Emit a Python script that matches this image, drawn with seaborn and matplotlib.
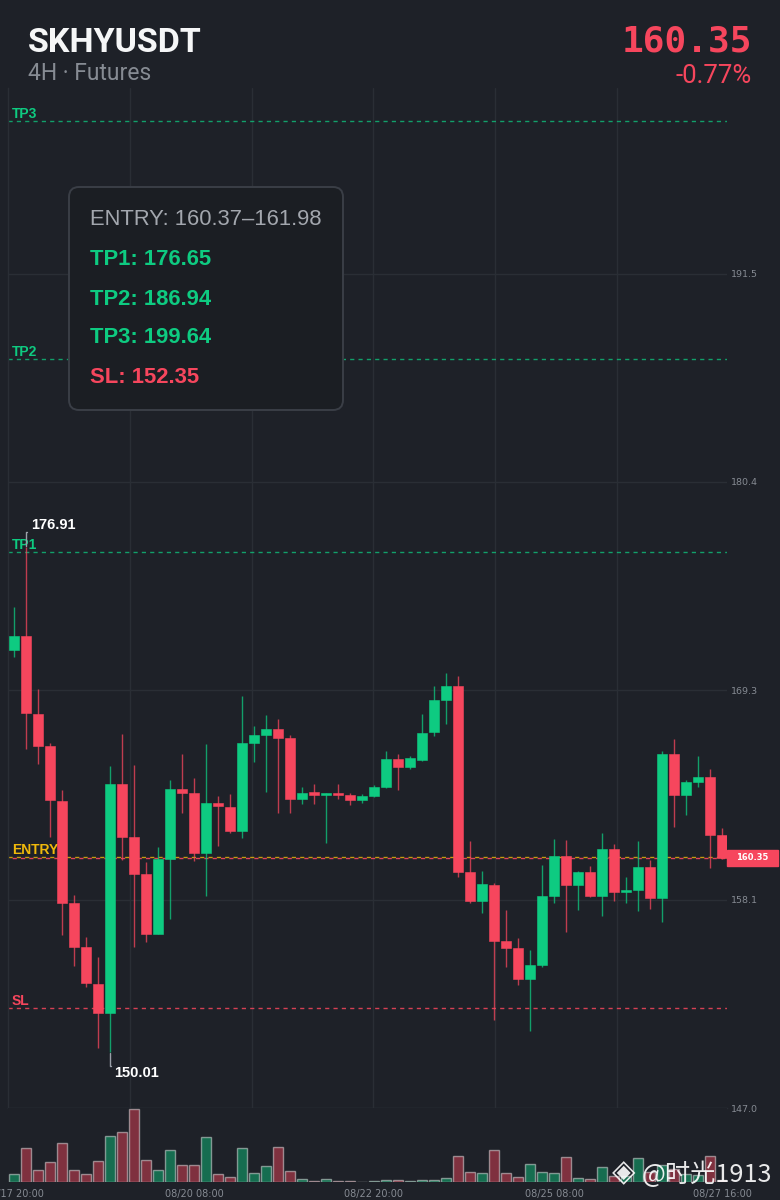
import matplotlib

matplotlib.use("Agg")
import matplotlib.pyplot as plt
import matplotlib.transforms as mtransforms
import numpy as np
import pandas as pd
import seaborn as sns
from matplotlib.patches import FancyBboxPatch, Rectangle

# ---- data (4H candles 08/17 20:00 .. 08/27 16:00) ----
opens = [171.41, 172.16, 168.00, 166.30, 163.38, 157.94, 155.57, 153.61, 152.08, 164.31,
         161.46, 159.47, 156.27, 160.29, 164.04, 163.78, 160.63, 163.27, 163.07, 161.78,
         166.49, 166.88, 167.22, 166.74, 163.47, 163.87, 163.69, 163.78, 163.69, 163.42,
         163.63, 164.13, 165.64, 165.17, 165.55, 167.06, 168.79, 169.49, 159.57, 158.05,
         158.92, 155.90, 155.53, 153.86, 154.63, 158.30, 160.47, 158.89, 159.57, 158.30,
         160.84, 158.55, 158.65, 159.86, 158.22, 165.91, 163.72, 164.40, 164.67, 161.55]
highs = [173.71, 176.91, 169.35, 166.47, 163.95, 158.34, 156.10, 155.07, 165.25, 166.97,
         165.32, 160.13, 160.93, 164.52, 165.91, 164.63, 166.44, 163.63, 163.74, 168.96,
         167.36, 167.95, 167.78, 166.92, 164.13, 164.27, 163.80, 164.31, 163.83, 163.74,
         164.22, 166.03, 165.87, 165.76, 168.00, 169.49, 170.21, 170.03, 161.23, 159.65,
         158.98, 157.55, 156.05, 155.42, 159.95, 161.33, 161.29, 159.65, 159.90, 161.66,
         161.06, 159.33, 161.23, 160.22, 166.05, 166.67, 164.52, 165.78, 165.07, 161.96]
lows = [171.04, 166.17, 165.37, 161.46, 156.21, 154.59, 153.43, 150.18, 150.01, 160.22,
        155.60, 155.87, 156.27, 157.11, 162.76, 160.18, 158.30, 160.99, 161.65, 161.43,
        165.46, 163.87, 162.75, 162.75, 163.20, 163.20, 161.14, 163.46, 163.15, 163.28,
        163.57, 164.09, 163.99, 165.11, 165.50, 166.83, 167.51, 159.30, 157.92, 157.38,
        151.69, 154.50, 153.56, 151.12, 154.50, 157.92, 156.40, 157.59, 158.25, 157.26,
        158.05, 157.92, 157.52, 157.64, 156.90, 161.99, 162.61, 164.13, 159.78, 160.26]
closes = [172.16, 168.06, 166.30, 163.42, 157.94, 155.60, 153.65, 152.08, 164.31, 161.46,
          159.51, 156.27, 160.29, 164.04, 163.81, 160.63, 163.27, 163.10, 161.78, 166.49,
          166.88, 167.22, 166.74, 163.47, 163.83, 163.69, 163.78, 163.69, 163.42, 163.63,
          164.13, 165.64, 165.17, 165.70, 167.03, 168.79, 169.49, 159.60, 158.05, 158.94,
          155.90, 155.53, 153.86, 154.61, 158.30, 160.47, 158.89, 159.57, 158.30, 160.84,
          158.53, 158.65, 159.86, 158.22, 165.91, 163.72, 164.38, 164.67, 161.57, 160.35]
volumes = [7.7, 34.3, 11.7, 20.3, 39.7, 12.3, 7.7, 20.7, 46.7, 50.3,
           73.7, 22.3, 12.3, 32.3, 16.7, 16.7, 45.7, 7.7, 5.0, 34.0,
           8.7, 16.0, 35.0, 11.0, 3.0, 1.3, 2.7, 1.3, 1.0, 0.3,
           0.7, 1.7, 1.7, 1.0, 2.3, 2.3, 3.7, 26.3, 9.7, 8.7,
           32.3, 9.3, 4.7, 17.7, 10.0, 9.0, 25.0, 4.0, 2.7, 14.7,
           5.7, 6.0, 23.7, 10.0, 16.7, 12.7, 8.3, 7.0, 26.0, 1.7]

time_tick_idx = [0, 15, 30, 45, 59]
time_tick_labels = ["08/17 20:00", "08/20 08:00", "08/22 20:00", "08/25 08:00", "08/27 16:00"]
price_ticks = [147.0, 158.1, 169.3, 180.4, 191.5]
grid_x = [9.65, 19.8, 29.95, 40.1, 50.25]

symbol = "SKHYUSDT"
subtitle = "4H · Futures"
last_price = 160.35
change_pct = -0.77
entry_range = (160.37, 161.98)
tp_names = ["TP1", "TP2", "TP3"]
tp_levels = [176.65, 186.94, 199.64]
sl_level = 152.35
swing_high = (1, 176.91)
swing_low = (8, 150.01)

# ---- style ----
BG = "#1e2128"
GRID = "#2a2e35"
GREEN = "#0ecb81"
RED = "#f6465d"
GOLD = "#f0b90b"
MUTED = "#868b93"

sns.set_style("dark", rc={"axes.facecolor": BG, "figure.facecolor": BG,
                          "grid.color": GRID, "axes.edgecolor": GRID})
plt.rcParams["font.family"] = ["DejaVu Sans"]

df = pd.DataFrame({"open": opens, "high": highs, "low": lows, "close": closes,
                   "volume": volumes})
df["idx"] = np.arange(len(df))
df["side"] = np.where(df["close"] >= df["open"], "up", "down")
up = df["side"] == "up"

W, H = 780, 1200


def rect(l, t, r, b):
    return [l / W, 1 - b / H, (r - l) / W, (b - t) / H]


fig = plt.figure(figsize=(W / 100, H / 100), dpi=100)
ax = fig.add_axes(rect(8, 88, 727, 1108))
vax = fig.add_axes(rect(8, 1108, 727, 1182))

xlim = (-0.5, 59.417)
ax.set_xlim(*xlim)
ax.set_ylim(147.0, 201.42)

# grid / frame
ax.set_yticks(price_ticks, labels=[f"{v:.1f}" for v in price_ticks])
ax.yaxis.tick_right()
ax.tick_params(axis="y", length=0, pad=3, labelsize=6.8, labelcolor=MUTED)
ax.set_xticks([])
ax.grid(axis="y", color=GRID, lw=1)
for gx in grid_x:
    ax.axvline(gx, color=GRID, lw=1, zorder=0)
for side in ["top", "right"]:
    ax.spines[side].set_visible(False)
for side in ["left", "bottom"]:
    ax.spines[side].set_color(GRID)
    ax.spines[side].set_linewidth(1)

# candles
body_lo = np.minimum(df["open"], df["close"])
body_h = np.maximum((df["close"] - df["open"]).abs(), 0.08)
colors = np.where(up, GREEN, RED)
ax.vlines(df["idx"], df["low"], df["high"], colors=colors, lw=1.0, alpha=0.75, zorder=3)
ax.bar(df["idx"], body_h, bottom=body_lo, width=0.8, color=colors,
       edgecolor=colors, linewidth=0.4, zorder=4)

# level lines
dash = (0, (3, 3))
for name, lvl in zip(tp_names, tp_levels):
    ax.axhline(lvl, color=GREEN, alpha=0.75, lw=1, ls=dash, zorder=2)
    ax.annotate(name, xy=(0, lvl), xycoords=("axes fraction", "data"),
                xytext=(4, 3), textcoords="offset pixels", va="baseline",
                color=GREEN, fontsize=10, fontweight="bold", family="Liberation Sans")

ax.axhline(entry_range[0], color=GOLD, alpha=0.8, lw=1, ls=(0, (3, 3)), zorder=2)
ax.axhline(last_price, color=RED, alpha=0.9, lw=1, ls=(3, (3, 3)), zorder=2)
ax.annotate("ENTRY", xy=(0, entry_range[0]), xycoords=("axes fraction", "data"),
            xytext=(4, 3), textcoords="offset pixels", va="baseline",
            color=GOLD, fontsize=10, fontweight="bold", family="Liberation Sans")
ax.axhline(sl_level, color=RED, alpha=0.85, lw=1, ls=dash, zorder=2)
ax.annotate("SL", xy=(0, sl_level), xycoords=("axes fraction", "data"),
            xytext=(4, 3), textcoords="offset pixels", va="baseline",
            color=RED, fontsize=10, fontweight="bold", family="Liberation Sans")

# last-price tag on the right
trans = mtransforms.blended_transform_factory(ax.transAxes, ax.transData)
tag_w = 51 / 719
ax.add_patch(Rectangle((1.0, last_price - 0.43), tag_w, 0.86, transform=trans,
                       color=RED, clip_on=False, zorder=6))
ax.text(1.0 + tag_w / 2, last_price, f"{last_price:.2f}", transform=trans,
        ha="center", va="center", color="white", fontsize=6, fontweight="bold",
        clip_on=False, zorder=7)

# swing high / low markers
conn = dict(arrowstyle="-", connectionstyle="angle,angleA=0,angleB=90,rad=0",
            color="#9aa0a8", lw=1, shrinkA=0, shrinkB=1)
ax.annotate(f"{swing_high[1]:.2f}", xy=swing_high, xytext=(27, 22),
            textcoords="offset pixels", ha="center", va="center", color="white",
            fontsize=10.5, fontweight="bold", family="Liberation Sans",
            arrowprops=dict(conn, relpos=(0.1, 0.05)), zorder=8)
ax.annotate(f"{swing_low[1]:.2f}", xy=swing_low, xytext=(27, -21),
            textcoords="offset pixels", ha="center", va="center", color="white",
            fontsize=10.5, fontweight="bold", family="Liberation Sans",
            arrowprops=dict(conn, relpos=(0.3, 0.95)), zorder=8)

# volume pane
sns.barplot(data=df, x="idx", y="volume", hue="side",
            palette={"up": GREEN, "down": RED}, native_scale=True, dodge=False,
            width=0.8, errorbar=None, legend=False, alpha=0.45, saturation=1,
            ax=vax)
vax.set_xlim(*xlim)
vax.set_ylim(0, 74.5)
vax.set_xticks(time_tick_idx, labels=time_tick_labels)
vax.set_yticks([])
vax.set_xlabel("")
vax.set_ylabel("")
vax.tick_params(axis="x", length=0, pad=5, labelsize=7, labelcolor=MUTED)
vax.grid(False)
for s in vax.spines.values():
    s.set_visible(False)

# header
fig.text(28 / W, 1 - 52 / H, symbol, family="Roboto", fontweight="bold",
         fontsize=24.5, color="#f5f6f7", va="baseline")
fig.text(28 / W, 1 - 80 / H, subtitle, family="Roboto", fontsize=16.5,
         color=MUTED, va="baseline")
fig.text(752 / W, 1 - 52 / H, f"{last_price:.2f}", family="DejaVu Sans Mono",
         fontweight="bold", fontsize=26, color=RED, ha="right", va="baseline")
fig.text(752 / W, 1 - 83 / H, f"{change_pct:.2f}%", family="Roboto", fontsize=18.5,
         color=RED, ha="right", va="baseline")

# info box
box = FancyBboxPatch((69, H - 410), 274, 223, boxstyle="round,pad=0,rounding_size=10",
                     transform=mtransforms.IdentityTransform(), fc="#1b1e23",
                     ec="#3a3e46", lw=1.4, zorder=10)
fig.add_artist(box)
box_lines = [
    (f"ENTRY: {entry_range[0]:.2f}–{entry_range[1]:.2f}", "#a3a7ae", "normal", 225),
    (f"TP1: {tp_levels[0]:.2f}", GREEN, "bold", 265),
    (f"TP2: {tp_levels[1]:.2f}", GREEN, "bold", 305),
    (f"TP3: {tp_levels[2]:.2f}", GREEN, "bold", 343),
    (f"SL: {sl_level:.2f}", RED, "bold", 383),
]
for txt, col, wt, base in box_lines:
    fig.text(90 / W, 1 - base / H, txt, family="Liberation Sans", fontsize=15.8,
             fontweight=wt, color=col, va="baseline", zorder=11)

# watermark
fig.text(624 / W, 1 - 1173 / H, "◈", family="DejaVu Sans", fontsize=22,
         color="white", alpha=0.9, ha="center", va="center", zorder=12)
fig.text(772 / W, 1 - 1182 / H, "@时光1913", family=["Noto Sans CJK SC", "DejaVu Sans"],
         fontsize=18.2, color="white", alpha=0.9, ha="right", va="baseline", zorder=12)

fig.savefig("out.png", dpi=100, facecolor=BG)
